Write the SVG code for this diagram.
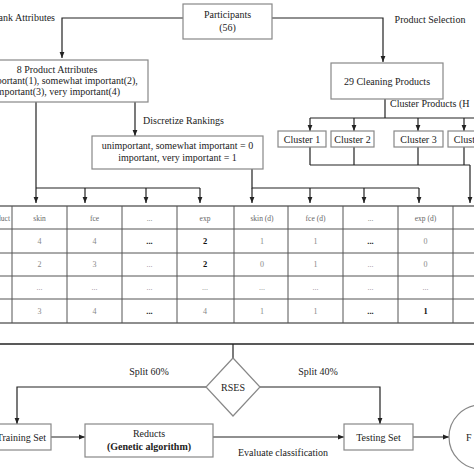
<svg xmlns="http://www.w3.org/2000/svg" width="474" height="474" viewBox="0 0 474 474">
<defs>
<marker id="ah" viewBox="0 0 10 10" refX="10" refY="5" markerWidth="6" markerHeight="6" orient="auto" markerUnits="userSpaceOnUse">
<path d="M0,1 L10,5 L0,9 z" fill="#222"/>
</marker>
</defs>
<style>
text{font-family:"Liberation Serif","Times New Roman",serif;fill:#222;font-size:10px}
.box{fill:#fff;stroke:#888;stroke-width:1.2}
.c{text-anchor:middle}
.con{fill:none;stroke:#222;stroke-width:1.2}
.arr{fill:none;stroke:#222;stroke-width:1.2;marker-end:url(#ah)}
.tl{stroke:#555;stroke-width:1}
.tv{font-size:8px;fill:#888;text-anchor:middle}
.th{font-size:7.5px;fill:#666;text-anchor:middle}
.tb{font-size:8.5px;fill:#111;font-weight:bold;text-anchor:middle}
</style>
<rect width="474" height="474" fill="#fff"/>

<g id="connectors">
<polyline class="arr" points="183,18 62,18 62,58"/>
<polyline class="arr" points="272,18 383,18 383,62"/>
<line class="con" x1="36" y1="102" x2="36" y2="188"/>
<line class="arr" x1="135" y1="102" x2="135" y2="136"/>
<line class="con" x1="36" y1="188" x2="200" y2="188"/>
<line class="arr" x1="36" y1="188" x2="36" y2="203"/>
<line class="arr" x1="85" y1="188" x2="85" y2="203"/>
<line class="arr" x1="146" y1="188" x2="146" y2="203"/>
<line class="arr" x1="200" y1="188" x2="200" y2="203"/>
<polyline class="con" points="252,169 252,188 419,188"/>
<line class="arr" x1="252" y1="188" x2="252" y2="203"/>
<line class="arr" x1="310" y1="188" x2="310" y2="203"/>
<line class="arr" x1="364" y1="188" x2="364" y2="203"/>
<line class="arr" x1="419" y1="188" x2="419" y2="203"/>
<line class="con" x1="385" y1="99" x2="385" y2="118"/>
<line class="con" x1="310" y1="118" x2="474" y2="118"/>
<line class="arr" x1="310" y1="118" x2="310" y2="131"/>
<line class="arr" x1="354" y1="118" x2="354" y2="131"/>
<line class="arr" x1="418" y1="118" x2="418" y2="131"/>
<line class="arr" x1="464" y1="118" x2="464" y2="131"/>
<line class="con" x1="310" y1="147" x2="310" y2="165"/>
<line class="con" x1="354" y1="147" x2="354" y2="165"/>
<line class="con" x1="418" y1="147" x2="418" y2="165"/>
<line class="con" x1="464" y1="147" x2="464" y2="165"/>
<line class="con" x1="310" y1="165" x2="470" y2="165"/>
<line class="arr" x1="470" y1="165" x2="470" y2="203"/>
<line x1="0" y1="344" x2="474" y2="344" stroke="#222" stroke-width="1.6"/>
<line class="con" x1="233" y1="344" x2="233" y2="358"/>
<polyline class="arr" points="206,387 17,387 17,424"/>
<polyline class="arr" points="260,387 380,387 380,424"/>
<line class="arr" x1="51" y1="437" x2="85" y2="437"/>
<line class="arr" x1="213" y1="437" x2="344" y2="437"/>
<line class="arr" x1="413" y1="437" x2="449" y2="437"/>
<text x="55" y="21" text-anchor="end">Rank Attributes</text>
<text x="430" y="23" class="c">Product Selection</text>
<text x="143" y="124">Discretize Rankings</text>
<text x="390" y="107">Cluster Products (H</text>
<text x="149" y="375" class="c">Split 60%</text>
<text x="318" y="375" class="c">Split 40%</text>
<text x="283" y="456" class="c">Evaluate classification</text>
</g>

<g id="participants">
<rect class="box" x="183" y="4" width="89" height="35"/>
<text x="227.5" y="18" class="c">Participants</text>
<text x="227.5" y="31" class="c">(56)</text>
</g>

<g id="product-attributes">
<rect class="box" x="-30" y="60" width="178" height="42"/>
<text x="57" y="73" class="c">8 Product Attributes</text>
<text x="57" y="84" class="c">unimportant(1), somewhat important(2),</text>
<text x="57" y="95" class="c">important(3), very important(4)</text>
</g>

<g id="discretize">
<rect class="box" x="92" y="136" width="171" height="33"/>
<text x="177.5" y="149" class="c">unimportant, somewhat important = 0</text>
<text x="177.5" y="161" class="c">important, very important = 1</text>
</g>

<g id="cleaning-products">
<rect class="box" x="331" y="63" width="112" height="36"/>
<text x="387" y="85" class="c">29 Cleaning Products</text>
</g>

<g id="cluster1">
<rect class="box" x="278" y="131" width="48" height="16"/>
<text x="302" y="143" class="c">Cluster 1</text>
</g>
<g id="cluster2">
<rect class="box" x="331" y="131" width="43" height="16"/>
<text x="352.5" y="143" class="c">Cluster 2</text>
</g>
<g id="cluster3">
<rect class="box" x="394" y="131" width="49" height="16"/>
<text x="418.5" y="143" class="c">Cluster 3</text>
</g>
<g id="cluster4">
<rect class="box" x="448" y="131" width="48" height="16"/>
<text x="472" y="143" class="c">Cluster 4</text>
</g>

<g id="table">
<rect x="-5" y="206" width="490" height="117" fill="#fff" stroke="#444" stroke-width="1.2"/>
<line class="tl" x1="-5" y1="229" x2="485" y2="229"/>
<line class="tl" x1="-5" y1="253" x2="485" y2="253"/>
<line class="tl" x1="-5" y1="276" x2="485" y2="276"/>
<line class="tl" x1="-5" y1="299" x2="485" y2="299"/>
<line class="tl" x1="12" y1="206" x2="12" y2="323"/>
<line class="tl" x1="67" y1="206" x2="67" y2="323"/>
<line class="tl" x1="122" y1="206" x2="122" y2="323"/>
<line class="tl" x1="177" y1="206" x2="177" y2="323"/>
<line class="tl" x1="234" y1="206" x2="234" y2="323"/>
<line class="tl" x1="288" y1="206" x2="288" y2="323"/>
<line class="tl" x1="343" y1="206" x2="343" y2="323"/>
<line class="tl" x1="398" y1="206" x2="398" y2="323"/>
<line class="tl" x1="453" y1="206" x2="453" y2="323"/>
<text x="10" y="221" class="th" style="text-anchor:end">Product</text>
<text x="39.5" y="221" class="th">skin</text>
<text x="94.5" y="221" class="th">fce</text>
<text x="149.5" y="221" class="th">...</text>
<text x="205" y="221" class="th">exp</text>
<text x="262" y="221" class="th">skin (d)</text>
<text x="315.5" y="221" class="th">fce (d)</text>
<text x="370.5" y="221" class="th">...</text>
<text x="425.5" y="221" class="th">exp (d)</text>

<text x="39.5" y="244" class="tv">4</text>
<text x="94.5" y="244" class="tv">4</text>
<text x="149.5" y="244" class="tb">...</text>
<text x="205" y="244" class="tb">2</text>
<text x="262" y="244" class="tv">1</text>
<text x="315.5" y="244" class="tv">1</text>
<text x="370.5" y="244" class="tb">...</text>
<text x="425.5" y="244" class="tv">0</text>

<text x="39.5" y="267" class="tv">2</text>
<text x="94.5" y="267" class="tv">3</text>
<text x="149.5" y="267" class="tv">...</text>
<text x="205" y="267" class="tb">2</text>
<text x="262" y="267" class="tv">0</text>
<text x="315.5" y="267" class="tv">1</text>
<text x="370.5" y="267" class="tv">...</text>
<text x="425.5" y="267" class="tv">0</text>

<text x="39.5" y="290" class="tv">...</text>
<text x="94.5" y="290" class="tv">...</text>
<text x="149.5" y="290" class="tv">...</text>
<text x="205" y="290" class="tv">...</text>
<text x="262" y="290" class="tv">...</text>
<text x="315.5" y="290" class="tv">...</text>
<text x="370.5" y="290" class="tv">...</text>
<text x="425.5" y="290" class="tv">...</text>

<text x="39.5" y="314" class="tv">3</text>
<text x="94.5" y="314" class="tv">4</text>
<text x="149.5" y="314" class="tb">...</text>
<text x="205" y="314" class="tv">4</text>
<text x="262" y="314" class="tv">1</text>
<text x="315.5" y="314" class="tv">1</text>
<text x="370.5" y="314" class="tb">...</text>
<text x="425.5" y="314" class="tb">1</text>
</g>

<g id="rses">
<polygon class="box" points="233,358 260,387 233,416 206,387"/>
<text x="233" y="391" class="c">RSES</text>
</g>

<g id="training-set">
<rect class="box" x="-30" y="424" width="81" height="26"/>
<text x="46" y="441" text-anchor="end">Training Set</text>
</g>

<g id="reducts">
<rect class="box" x="85" y="424" width="128" height="33"/>
<text x="149" y="437" class="c">Reducts</text>
<text x="149" y="450" class="c" font-weight="bold">(Genetic algorithm)</text>
</g>

<g id="testing-set">
<rect class="box" x="344" y="424" width="69" height="26"/>
<text x="378.5" y="441" class="c">Testing Set</text>
</g>

<g id="final">
<circle class="box" cx="481" cy="437" r="32"/>
<text x="466" y="441">F</text>
</g>
</svg>
